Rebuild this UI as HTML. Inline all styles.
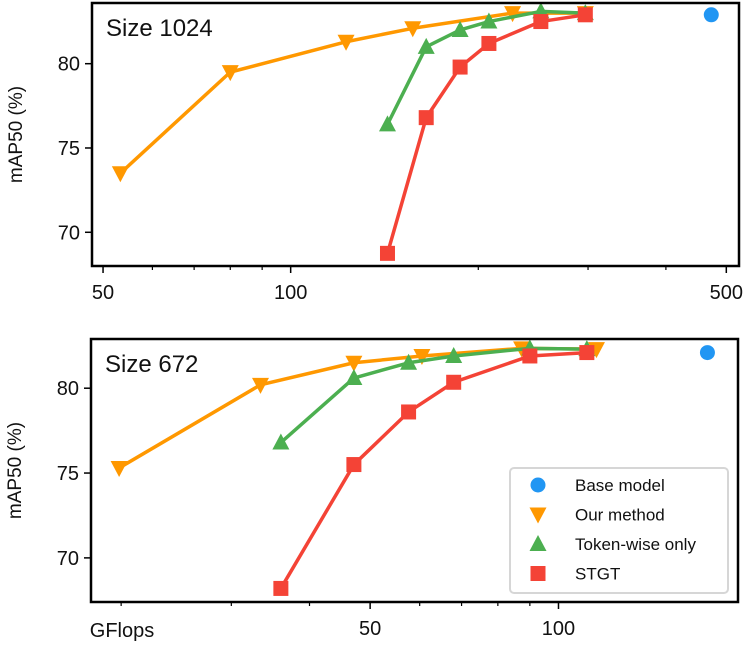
<!DOCTYPE html>
<html><head><meta charset="utf-8"><style>
html,body{margin:0;padding:0;background:#fff;}
svg{display:block;font-family:"Liberation Sans",sans-serif;}
</style></head><body>
<svg id="chart" width="749" height="649" xmlns="http://www.w3.org/2000/svg"></svg>
<script>
// ---- Top panel data (Size 1024)
const topOurX = [53.3, 80.0, 122.7, 157, 227, 297];
const topOurY = [73.5, 79.5, 81.3, 82.1, 83.0, 83.0];
const topTokX = [143, 165, 187, 208, 252, 297];
const topTokY = [76.4, 81.0, 82.0, 82.5, 83.1, 83.0];
const topStgtX = [143, 165, 187, 208, 252, 297];
const topStgtY = [68.75, 76.8, 79.8, 81.2, 82.5, 82.9];
const topBaseX = [473];
const topBaseY = [82.9];
const topXTicks = [50, 100, 500];
const topXMinor = [60,70,80,90,200,300,400];
const topYTicks = [70, 75, 80];
// ---- Bottom panel data (Size 672)
const botOurX = [19.85, 33.4, 47.1, 60.5, 87.3, 115];
const botOurY = [75.3, 80.2, 81.5, 81.9, 82.35, 82.3];
const botTokX = [36.0, 47.1, 57.6, 68.0, 90.0, 111];
const botTokY = [76.8, 80.6, 81.5, 81.9, 82.35, 82.3];
const botStgtX = [36.0, 47.1, 57.6, 68.0, 90.0, 111];
const botStgtY = [68.2, 75.5, 78.6, 80.35, 81.9, 82.1];
const botBaseX = [173];
const botBaseY = [82.1];
const botXTicks = [50, 100];
const botXMinor = [20,30,40,60,70,80,90];
const botYTicks = [70, 75, 80];

const NS = "http://www.w3.org/2000/svg";
const svg = document.getElementById('chart');
const C = {base:'#2196F3', our:'#FF9800', tok:'#4CAF50', stgt:'#F44336'};
function mk(tag, attrs, parent){
  const e = document.createElementNS(NS, tag);
  for (const k in attrs) e.setAttribute(k, attrs[k]);
  (parent||svg).appendChild(e);
  return e;
}
function panel(p){
  const g = mk('g', {});
  
  
  const xs = v => p.x0 + (Math.log10(v) - Math.log10(p.xmin)) / (Math.log10(p.xmax) - Math.log10(p.xmin)) * (p.x1 - p.x0);
  const ys = v => p.y1 - (v - p.ymin) / (p.ymax - p.ymin) * (p.y1 - p.y0);
  p.yt.forEach(v => {
    const y = ys(v);
    const t = mk('line', {x1:p.x0-7, x2:p.x0, y1:y, y2:y, stroke:'#000', 'stroke-width':1.5}, g);
    
    
    const l = mk('text', {x:p.x0-12, y:y+7, 'text-anchor':'end', 'font-size':20, fill:'#111'}, g);
    l.textContent = v;
    
    
  });
  p.xt.forEach(v => {
    const x = xs(v);
    const t = mk('line', {x1:x, x2:x, y1:p.y1, y2:p.y1+7, stroke:'#000', 'stroke-width':1.5}, g);
    
    
    const l = mk('text', {x:x, y:p.y1+33, 'text-anchor':'middle', 'font-size':20, fill:'#111'}, g);
    l.textContent = v;
    
    
  });
  p.xm.forEach(v => {
    const x = xs(v);
    const t = mk('line', {x1:x, x2:x, y1:p.y1, y2:p.y1+4, stroke:'#000', 'stroke-width':1.2}, g);
    
    
  });
  const yl = mk('text', {x:0, y:0, transform:`translate(${p.x0-70},${(p.y0+p.y1)/2}) rotate(-90)`, 'text-anchor':'middle', 'font-size':19, fill:'#111'}, g);
  yl.textContent = 'mAP50 (%)';
  
  
  const ti = mk('text', {x:p.x0+14, y:p.y0+33, 'font-size':24, fill:'#111'}, g);
  ti.textContent = p.title;
  
  
  const series = [
    {k:'our', X:p.ourX, Y:p.ourY, m:'tridown', n:'our-method'},
    {k:'tok', X:p.tokX, Y:p.tokY, m:'triup', n:'token-wise-only'},
    {k:'stgt', X:p.stgtX, Y:p.stgtY, m:'square', n:'stgt'},
    {k:'base', X:p.baseX, Y:p.baseY, m:'circle', n:'base-model'}
  ];
  series.forEach(s => {
    const sg = mk('g', {}, g);
    
    
    if (s.X.length > 1){
      const pts = s.X.map((v,i)=>xs(v)+','+ys(s.Y[i])).join(' ');
      const pl = mk('polyline', {points:pts, fill:'none', stroke:C[s.k], 'stroke-width':3.5, 'stroke-linejoin':'round'}, sg);
      
      
    }
    s.X.forEach((v,i) => {
      marker(sg, s.m, xs(v), ys(s.Y[i]), C[s.k], s.n + '-point');
    });
  });
  const fr = mk('rect', {x:p.x0, y:p.y0, width:p.x1-p.x0, height:p.y1-p.y0, fill:'none', stroke:'#000', 'stroke-width':2.5}, g);
  
  
  return g;
}
function marker(parent, m, x, y, col, name){
  let e;
  if (m === 'circle') e = mk('circle', {cx:x, cy:y, r:7.5, fill:col}, parent);
  else if (m === 'square') e = mk('rect', {x:x-7.5, y:y-7.5, width:15, height:15, fill:col}, parent);
  else if (m === 'triup') e = mk('polygon', {points:`${x-8.5},${y+7} ${x+8.5},${y+7} ${x},${y-9}`, fill:col}, parent);
  else e = mk('polygon', {points:`${x-8.5},${y-7} ${x+8.5},${y-7} ${x},${y+9}`, fill:col}, parent);
  
  
  return e;
}
panel({name:'top-panel', title:'Size 1024', x0:92, x1:739, y0:3, y1:266, xmin:48, xmax:524, ymin:68.0, ymax:83.6,
  xt:topXTicks, xm:topXMinor, yt:topYTicks,
  ourX:topOurX, ourY:topOurY, tokX:topTokX, tokY:topTokY, stgtX:topStgtX, stgtY:topStgtY, baseX:topBaseX, baseY:topBaseY});
const bp = panel({name:'bottom-panel', title:'Size 672', x0:91, x1:738, y0:339, y1:602, xmin:17.9, xmax:193.6, ymin:67.4, ymax:82.9,
  xt:botXTicks, xm:botXMinor, yt:botYTicks,
  ourX:botOurX, ourY:botOurY, tokX:botTokX, tokY:botTokY, stgtX:botStgtX, stgtY:botStgtY, baseX:botBaseX, baseY:botBaseY});
const gf = mk('text', {x:122, y:637, 'text-anchor':'middle', 'font-size':20, fill:'#111'}, bp);
gf.textContent = 'GFlops';


const lg = mk('g', {});


const lbox = mk('rect', {x:510, y:468, width:218, height:125, rx:4, fill:'#fff', 'fill-opacity':0.85, stroke:'#d6d6d6', 'stroke-width':2}, lg);


const legNames = ['Base model','Our method','Token-wise only','STGT'];
const legM = ['circle','tridown','triup','square'];
const legC = [C.base, C.our, C.tok, C.stgt];
legNames.forEach((n,i) => {
  const y = 485 + i*29.5;
  const eg = mk('g', {}, lg);
  
  
  marker(eg, legM[i], 538, y, legC[i], 'legend-marker');
  const t = mk('text', {x:575, y:y+6, 'font-size':17, fill:'#111'}, eg);
  t.textContent = n;
  
  
});
</script>
</body></html>
